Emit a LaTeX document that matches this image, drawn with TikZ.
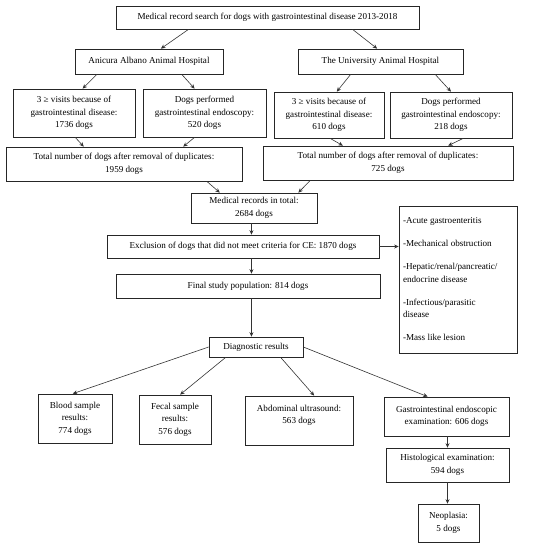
\documentclass[tikz,border=0pt]{standalone}
\usepackage{fontspec}
\setmainfont{Liberation Serif}
\usetikzlibrary{calc,arrows.meta}
\begin{document}
\begin{tikzpicture}[x=1pt,y=-1pt,
  box/.style={draw=black!85,line width=0.7pt,inner sep=0pt,align=center,font=\fontsize{9.1}{12.5}\selectfont},
  arr/.style={draw=black!80,line width=0.6pt,-{Stealth[length=4.5pt,width=4pt]}}]
\useasboundingbox (0,0) rectangle (542,550);
% nodes (center, width, height)
\node[box,minimum width=303,minimum height=23] (top) at (267.5,17.5) {Medical record search for dogs with gastrointestinal disease 2013-2018};
\node[box,minimum width=148,minimum height=25] (ani) at (149,61.5) {Anicura Albano Animal Hospital};
\node[box,minimum width=165,minimum height=25] (uni) at (380.5,61.5) {The University Animal Hospital};
\node[box,minimum width=122,minimum height=48] (l1) at (74,113) {3 ≥ visits because of\\gastrointestinal disease:\\1736 dogs};
\node[box,minimum width=123,minimum height=48] (l2) at (204.5,113) {Dogs performed\\gastrointestinal endoscopy:\\520 dogs};
\node[box,minimum width=110,minimum height=46] (r1) at (329,115) {3 ≥ visits because of\\gastrointestinal disease:\\610 dogs};
\node[box,minimum width=122,minimum height=46] (r2) at (451,115) {Dogs performed\\gastrointestinal endoscopy:\\218 dogs};
\node[box,minimum width=236,minimum height=34] (totl) at (124,164) {Total number of dogs after removal of duplicates:\\1959 dogs};
\node[box,minimum width=250,minimum height=34] (totr) at (388,163) {Total number of dogs after removal of duplicates:\\725 dogs};
\node[box,minimum width=126,minimum height=30] (med) at (254,208) {Medical records in total:\\2684 dogs};
\node[box,minimum width=272,minimum height=23] (excl) at (243,246.5) {Exclusion of dogs that did not meet criteria for CE: 1870 dogs};
\node[box,minimum width=118,minimum height=147,align=left] (list) at (458,279.5) {\begin{minipage}{110pt}\raggedright
-Acute gastroenteritis\\[10.5pt]
-Mechanical obstruction\\[10.5pt]
-Hepatic/renal/pancreatic/\\endocrine disease\\[10.5pt]
-Infectious/parasitic\\disease\\[10.5pt]
-Mass like lesion\end{minipage}};
\node[box,minimum width=264,minimum height=24] (final) at (248,286) {Final study population: 814 dogs};
\node[box,minimum width=94,minimum height=20] (diag) at (256,347) {Diagnostic results};
\node[box,minimum width=74,minimum height=49] (blood) at (75,418.5) {Blood sample\\results:\\774 dogs};
\node[box,minimum width=72,minimum height=49] (fecal) at (175,419.5) {Fecal sample\\results:\\576 dogs};
\node[box,minimum width=108,minimum height=49] (abd) at (299,420.5) {Abdominal ultrasound:\\563 dogs\\\mbox{}};
\node[box,minimum width=125,minimum height=39] (gi) at (446.5,416.5) {Gastrointestinal endoscopic\\examination: 606 dogs};
\node[box,minimum width=123,minimum height=34] (histo) at (447.5,465) {Histological examination:\\594 dogs};
\node[box,minimum width=61,minimum height=38] (neo) at (448.5,523) {Neoplasia:\\5 dogs};
% connectors
\draw[arr] ($(top.south west)!0.24!(top.south east)$) -- ($(ani.north west)!0.58!(ani.north east)$);
\draw[arr] ($(top.south west)!0.78!(top.south east)$) -- ($(uni.north west)!0.48!(uni.north east)$);
\draw[arr] ($(ani.south west)!0.15!(ani.south east)$) -- ($(l1.north west)!0.57!(l1.north east)$);
\draw[arr] ($(ani.south west)!0.72!(ani.south east)$) -- ($(l2.north west)!0.42!(l2.north east)$);
\draw[arr] ($(uni.south west)!0.32!(uni.south east)$) -- ($(r1.north west)!0.57!(r1.north east)$);
\draw[arr] ($(uni.south west)!0.83!(uni.south east)$) -- ($(r2.north west)!0.5!(r2.north east)$);
\draw[arr] ($(l1.south west)!0.51!(l1.south east)$) -- ($(totl.north west)!0.33!(totl.north east)$);
\draw[arr] ($(l2.south west)!0.42!(l2.south east)$) -- ($(totl.north west)!0.75!(totl.north east)$);
\draw[arr] ($(r1.south west)!0.51!(r1.south east)$) -- ($(totr.north west)!0.32!(totr.north east)$);
\draw[arr] ($(r2.south west)!0.6!(r2.south east)$) -- ($(totr.north west)!0.74!(totr.north east)$);
\draw[arr] ($(totl.south west)!0.85!(totl.south east)$) -- ($(med.north west)!0.23!(med.north east)$);
\draw[arr] ($(totr.south west)!0.19!(totr.south east)$) -- ($(med.north west)!0.85!(med.north east)$);
\coordinate (mx) at ($(med.south west)!0.48!(med.south east)$);
\draw[arr] (mx) -- (mx |- excl.north);
\draw[arr] (excl.east) -- (list.west |- excl.east);
\draw[arr] (mx |- excl.south) -- (mx |- final.north);
\draw[arr] (mx |- final.south) -- (mx |- diag.north);
\draw[arr] (diag.west) -- ($(blood.north west)!0.47!(blood.north east)$);
\draw[arr] ($(diag.south west)!0.18!(diag.south east)$) -- ($(fecal.north west)!0.57!(fecal.north east)$);
\draw[arr] ($(diag.south west)!0.76!(diag.south east)$) -- ($(abd.north west)!0.64!(abd.north east)$);
\draw[arr] (diag.east) -- ($(gi.north west)!0.35!(gi.north east)$);
\coordinate (gx) at ($(histo.south west)!0.5!(histo.south east)$);
\draw[arr] (gx |- gi.south) -- (gx |- histo.north);
\draw[arr] (gx) -- (gx |- neo.north);
\end{tikzpicture}
\end{document}
